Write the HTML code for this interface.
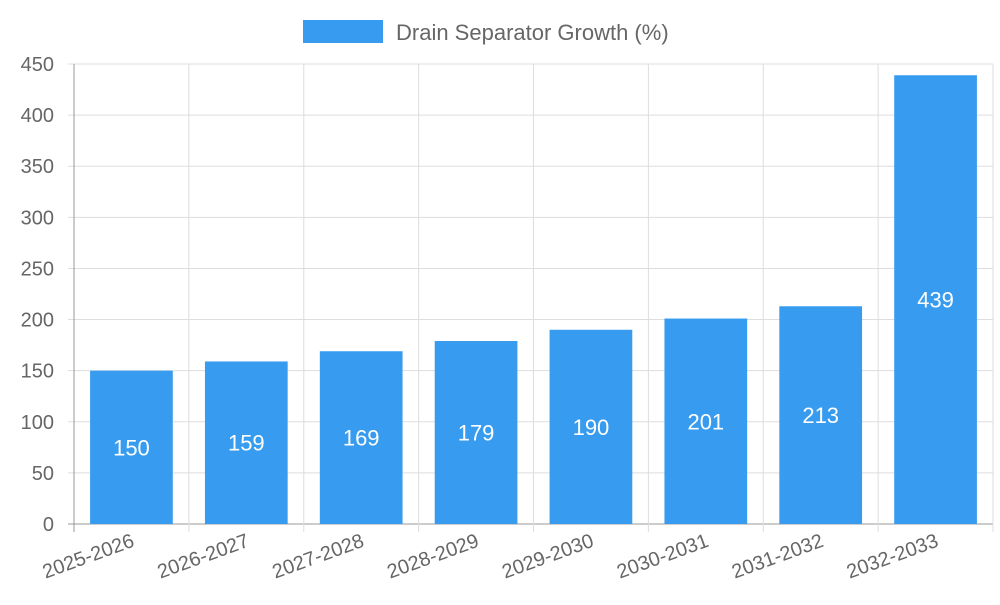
<!DOCTYPE html>
<html><head><meta charset="utf-8"><style>
body{margin:0;background:#fff;font-family:"Liberation Sans",sans-serif}
</style></head><body>
<svg id="c" width="1000" height="600" xmlns="http://www.w3.org/2000/svg">
<g>
<rect x="303" y="20" width="80" height="23" fill="#379bef"/>
<text x="396" y="40" font-size="22" fill="#666" font-family="Liberation Sans, sans-serif">Drain Separator Growth (%)</text>
</g>
<g id="grid"></g><g id="bars"></g><g id="labels"></g>
</svg>
<script>
const categories=["2025-2026","2026-2027","2027-2028","2028-2029","2029-2030","2030-2031","2031-2032","2032-2033"];
const values=[150,159,169,179,190,201,213,439];
const yTicks=[0,50,100,150,200,250,300,350,400,450];
const L=74,R=993,T=64,B=524,yMax=450;
const NS="http://www.w3.org/2000/svg";
const y=v=>B-(v/yMax)*(B-T);
const bw=(R-L)/categories.length;
const x=i=>L+bw*i;
function mk(tag,attrs,parent){const e=document.createElementNS(NS,tag);for(const k in attrs)e.setAttribute(k,attrs[k]);document.getElementById(parent).appendChild(e);return e;}
yTicks.forEach(t=>{
 const g=mk("line",{x1:L-6,x2:R,y1:y(t),y2:y(t),stroke:t===0?"#999":"#ddd","stroke-width":1},"grid");
 
 
 const tx=mk("text",{x:L-20,y:y(t)+7,"text-anchor":"end","font-size":20,fill:"#666"},"grid");
 tx.textContent=t;
 
 
});
for(let i=0;i<=categories.length;i++){
 const g=mk("line",{x1:x(i),x2:x(i),y1:T,y2:B+8,stroke:i===0?"#999":"#ddd","stroke-width":1},"grid");
 
 
}
categories.forEach((c,i)=>{
 const cx=x(i)+bw/2,w=bw*0.72;
 const r=mk("rect",{x:cx-w/2,y:y(values[i]),width:w,height:B-y(values[i]),fill:"#379bef"},"bars");
 
 
 const v=mk("text",{x:cx,y:(y(values[i])+B)/2+8,"text-anchor":"middle","font-size":22,fill:"#fff"},"labels");
 v.textContent=values[i];
 
 
 const t=mk("text",{x:cx+4,y:B+22,"text-anchor":"end","font-size":20,fill:"#666",transform:`rotate(-20 ${cx+4} ${B+22})`},"labels");
 t.textContent=c;
 
 
});
</script>
</body></html>
